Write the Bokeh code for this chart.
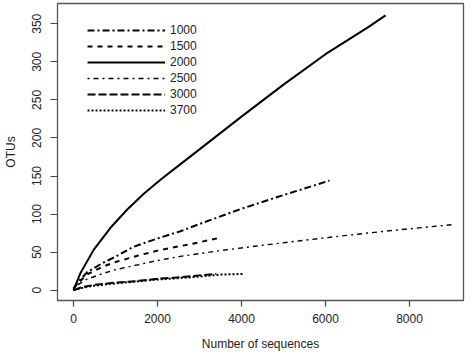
from bokeh.plotting import figure
from bokeh.models import Range1d, FixedTicker, Legend, LegendItem
from bokeh.embed import file_html
from bokeh.resources import INLINE

# ---- data ----
x_ticks = [0, 2000, 4000, 6000, 8000]
y_ticks = [0, 50, 100, 150, 200, 250, 300, 350]

s1000_x = [0, 100, 330, 700, 1000, 1429, 2000, 2548, 3000, 4000, 5000, 6095]
s1000_y = [2, 10, 24, 36, 44, 57, 68, 77.5, 87, 107, 125, 144]

s1500_x = [0, 100, 330, 700, 1000, 1500, 2000, 2548, 3000, 3450]
s1500_y = [2, 9, 21, 31, 37, 45, 52, 58, 63, 68.5]

s2000_x = [0, 170, 480, 880, 1280, 1680, 2070, 2510, 3000, 4000, 5000, 6000, 7000, 7430]
s2000_y = [0, 23, 53, 82, 106, 127, 145, 164, 185, 228, 270, 310, 345, 361]

s2500_x = [0, 100, 300, 700, 1000, 1500, 2000, 2548, 3500, 4500, 5400, 6500, 7500, 9000]
s2500_y = [2, 7, 14, 22, 27, 33, 39, 44.5, 52, 59, 65, 72, 78, 86]

s3000_x = [0, 200, 500, 1000, 1500, 2000, 2548, 3000, 3400]
s3000_y = [0, 4, 7, 10, 12, 15, 17, 19.5, 21.5]

s3700_x = [0, 200, 500, 1000, 1500, 2000, 2548, 3000, 3500, 4050]
s3700_y = [0, 3, 6, 9, 11.5, 14, 16, 18, 20.5, 21.5]

labels = ["1000", "1500", "2000", "2500", "3000", "3700"]

FONT = "Liberation Sans"
TXT = "#222222"

p = figure(width=466, height=353, output_backend="svg", toolbar_location=None,
           x_range=Range1d(-381, 9286), y_range=Range1d(-13.5, 376.6),
           min_border_left=57, min_border_right=3, min_border_top=3,
           min_border_bottom=52)
p.xgrid.visible = False
p.ygrid.visible = False
p.outline_line_color = "#555555"
p.outline_line_width = 1.3
p.background_fill_color = "white"

for ax, ticks in ((p.xaxis, x_ticks), (p.yaxis, y_ticks)):
    ax.ticker = FixedTicker(ticks=ticks)
    ax.minor_tick_line_color = None
    ax.major_tick_in = 0
    ax.major_tick_line_color = "#444444"
    ax.major_tick_line_width = 1.2
    ax.axis_line_color = None
    ax.major_label_text_font = FONT
    ax.major_label_text_font_size = "12px"
    ax.major_label_text_color = TXT
    ax.axis_label_text_font = FONT
    ax.axis_label_text_font_size = "12px"
    ax.axis_label_text_font_style = "normal"
    ax.axis_label_text_color = TXT

p.xaxis.major_tick_out = 6
p.xaxis.major_label_standoff = 7
p.xaxis.axis_label = "Number of sequences"
p.xaxis.axis_label_standoff = 11

p.yaxis.major_tick_out = 7
p.yaxis.major_label_orientation = "vertical"
p.yaxis.major_label_standoff = 9
p.yaxis.axis_label = "OTUs"
p.yaxis.axis_label_standoff = 12

r1000 = p.line(s1000_x, s1000_y, line_color="black", line_width=2, line_dash="7 3 2 3")
r1500 = p.line(s1500_x, s1500_y, line_color="black", line_width=2, line_dash="5 5")
r2000 = p.line(s2000_x, s2000_y, line_color="black", line_width=2)
r2500 = p.line(s2500_x, s2500_y, line_color="black", line_width=1.4, line_dash="2 4 5 4")
r3000 = p.line(s3000_x, s3000_y, line_color="black", line_width=2, line_dash="8 3")
r3700 = p.line(s3700_x, s3700_y, line_color="black", line_width=2, line_dash="2 2")

rends = [r1000, r1500, r2000, r2500, r3000, r3700]
legend = Legend(items=[LegendItem(label=l, renderers=[r]) for l, r in zip(labels, rends)],
                location=(30, 182), border_line_color=None, background_fill_alpha=0,
                glyph_width=78, glyph_height=16, label_height=16, label_standoff=5,
                spacing=0, padding=0, margin=0,
                label_text_font=FONT, label_text_font_size="12px", label_text_color=TXT)
p.add_layout(legend)

open("out.html", "w").write(file_html(p, INLINE))
